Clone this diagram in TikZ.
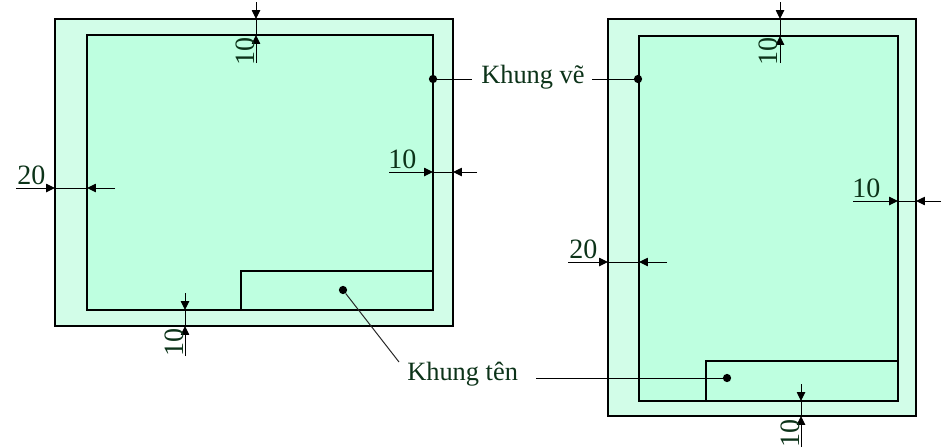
\documentclass[tikz,border=0pt]{standalone}
\usepackage{fontspec}
\setmainfont{Liberation Serif}
\usetikzlibrary{arrows.meta}
\definecolor{paperfill}{HTML}{D2FDE8}
\definecolor{framefill}{HTML}{BEFFE0}
\definecolor{inkgreen}{HTML}{0C3319}
\tikzset{
  x=0.75pt,y=-0.75pt,
  outerbox/.style={draw=black,line width=1.8pt,fill=paperfill},
  framebox/.style={draw=black,line width=1.7pt,fill=framefill},
  titlebox/.style={draw=black,line width=1.7pt},
  dimline/.style={draw=black,line width=0.75pt,-{Triangle[length=6.6pt,width=6.2pt]}},
  plainline/.style={draw=black,line width=0.75pt},
  leader/.style={draw=black!85,line width=0.75pt},
  dimtext/.style={inner sep=0pt,text=inkgreen,font=\fontsize{21}{21}\selectfont,anchor=base west},
  dimvert/.style={dimtext,rotate=90},
  labeltext/.style={inner sep=0pt,text=inkgreen,font=\fontsize{19.8}{21}\selectfont,anchor=base west},
  dotmark/.style={circle,fill=black,inner sep=0pt,minimum size=6.2pt}
}
\begin{document}
\begin{tikzpicture}
\useasboundingbox (0,0) rectangle (948,447);
% ---------- left sheet
\draw[outerbox] (55,19) rectangle (453,326);
\draw[framebox] (87,35) rectangle (433,310);
\draw[titlebox] (241,310) |- (433,271);
% ---------- right sheet
\draw[outerbox] (608,19) rectangle (916,416);
\draw[framebox] (639,36) rectangle (898,401);
\draw[titlebox] (706,401) |- (898,361);
% ---------- left coordinates
\coordinate (lt1) at (256,2);    \coordinate (lt2) at (256,19);
\coordinate (lt3) at (256,63);   \coordinate (lt4) at (256,35);
\coordinate (lb1) at (185,293);  \coordinate (lb2) at (185,310);
\coordinate (lb3) at (185,356);  \coordinate (lb4) at (185,326);
\coordinate (lr1) at (389,172);  \coordinate (lr2) at (433,172);
\coordinate (lr3) at (477,172);  \coordinate (lr4) at (453,172);
\coordinate (ll1) at (16,188);   \coordinate (ll2) at (55,188);
\coordinate (ll3) at (115,188);  \coordinate (ll4) at (87,188);
% ---------- right coordinates
\coordinate (rt1) at (780,2);    \coordinate (rt2) at (780,19);
\coordinate (rt3) at (780,63);   \coordinate (rt4) at (780,36);
\coordinate (rb1) at (801,384);  \coordinate (rb2) at (801,401);
\coordinate (rb3) at (801,447);  \coordinate (rb4) at (801,416);
\coordinate (rr1) at (853,201);  \coordinate (rr2) at (898,201);
\coordinate (rr3) at (941,201);  \coordinate (rr4) at (916,201);
\coordinate (rl1) at (568,262);  \coordinate (rl2) at (608,262);
\coordinate (rl3) at (667,262);  \coordinate (rl4) at (639,262);
% ---------- dimension lines
\foreach \n in {lt,lb,lr,ll,rt,rb,rr,rl}{
  \draw[dimline] (\n1) -- (\n2);
  \draw[dimline] (\n3) -- (\n4);
  \draw[plainline] (\n2) -- (\n4);
}
% ---------- dimension texts
\node[dimvert] (t1) at (254,66) {10};
\node[dimvert] (t2) at (183,357) {10};
\node[dimvert] (t3) at (777,66) {10};
\node[dimvert] (t4) at (799,448) {10};
\node[dimtext] (t5) at (388,168) {10};
\node[dimtext] (t6) at (852,197) {10};
\node[dimtext] (t7) at (17,184) {20};
\node[dimtext] (t8) at (569,258) {20};
% ---------- labels and leaders
\node[labeltext] (kve) at (481,83) {Khung vẽ};
\node[labeltext] (kten) at (407,380) {Khung tên};
\node[dotmark] (d1) at (433,79) {};
\node[dotmark] (d2) at (638,79) {};
\node[dotmark] (d3) at (343,290) {};
\node[dotmark] (d4) at (727,378) {};
\coordinate (kve1) at (472,79);
\coordinate (kve2) at (592,79);
\coordinate (kten1) at (399,362);
\coordinate (kten2) at (536,378);
\draw[plainline] (d1) -- (kve1);
\draw[plainline] (d2) -- (kve2);
\draw[leader] (d3) -- (kten1);
\draw[plainline] (d4) -- (kten2);
\end{tikzpicture}
\end{document}
